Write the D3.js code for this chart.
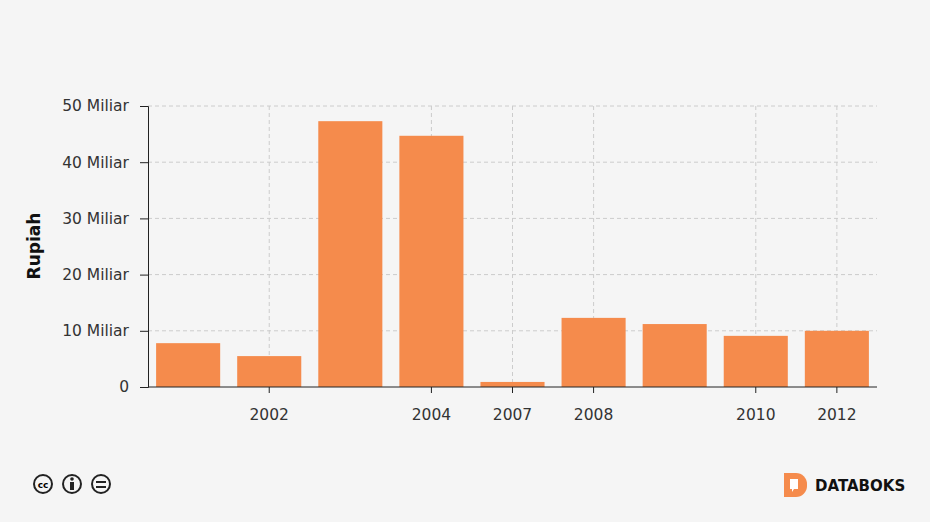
<!DOCTYPE html>
<html><head><meta charset="utf-8">
<script src="https://cdn.jsdelivr.net/npm/d3@7"></script>
<style>
body{margin:0;background:#f5f5f5;font-family:"DejaVu Sans",Verdana,sans-serif}
</style></head><body>
<svg id="c" width="930" height="522"></svg>
<script>
let categories=['c1','2002','c3','2004','2007','2008','c7','2010','2012']
let tickLabels=['','2002','','2004','2007','2008','','2010','2012']
let values=[7.8,5.5,47.3,44.7,0.9,12.3,11.2,9.1,10.0]
let yTicks=[0,10,20,30,40,50]

let svg=d3.select('#c')
svg.append('rect').attr('width',930).attr('height',522).attr('fill','#f5f5f5')
let pLeft=148,pRight=877,pTop=106,pBottom=387
let x=d3.scaleBand().domain(categories).range([pLeft,pRight]).paddingInner(0.21).paddingOuter(0.1)
let y=d3.scaleLinear().domain([0,50]).range([pBottom,pTop])

// grid
svg.append('g').selectAll('line').data(yTicks.slice(1)).enter().append('line')
  .attr('x1',pLeft).attr('x2',pRight).attr('y1',d=>y(d)).attr('y2',d=>y(d))
  .attr('stroke','#ccc').attr('stroke-dasharray','4,3')
svg.append('g').selectAll('line').data(categories.filter((d,i)=>tickLabels[i])).enter().append('line')
  .attr('x1',d=>x(d)+x.bandwidth()/2).attr('x2',d=>x(d)+x.bandwidth()/2).attr('y1',pTop).attr('y2',pBottom)
  .attr('stroke','#ccc').attr('stroke-dasharray','4,3')

svg.append('g').selectAll('rect').data(values).enter().append('rect')
  .attr('x',(d,i)=>x(categories[i])).attr('width',x.bandwidth())
  .attr('y',d=>y(d)).attr('height',d=>pBottom-y(d)).attr('fill','#f58b4c')

let yAxis=d3.axisLeft(y).tickValues(yTicks).tickSize(8).tickPadding(11)
  .tickFormat(d=>d===0?'0':d+' Miliar')
let ga=svg.append('g').attr('transform','translate('+pLeft+',0)').call(yAxis)
ga.select('.domain').attr('stroke','#222')
ga.selectAll('.tick line').attr('stroke','#222')
ga.selectAll('text').attr('font-size',15.5).attr('fill','#333').attr('font-family','DejaVu Sans')

let xAxis=d3.axisBottom(x).tickSize(6).tickPadding(16).tickFormat((d,i)=>tickLabels[i])
let gx=svg.append('g').attr('transform','translate(0,'+pBottom+')').call(xAxis)
gx.select('.domain').attr('stroke','#222').attr('d','M'+pLeft+',0H'+pRight)
gx.selectAll('.tick line').attr('stroke',(d,i)=>tickLabels[i]?'#222':'none')
gx.selectAll('text').attr('font-size',15.5).attr('fill','#333').attr('font-family','DejaVu Sans')

svg.append('text').attr('transform','translate(40,246) rotate(-90)').attr('text-anchor','middle')
  .attr('font-size',17).attr('font-weight','bold').attr('fill','#111').text('Rupiah')

// footer icons
let cc=svg.append('g')
;[43,72,101].forEach(cx=>{
  cc.append('circle').attr('cx',cx).attr('cy',484).attr('r',9).attr('fill','none').attr('stroke','#222').attr('stroke-width',2)
})
cc.append('text').attr('x',43).attr('y',488).attr('text-anchor','middle').attr('font-size',9).attr('font-weight','bold').text('cc')
cc.append('circle').attr('cx',72).attr('cy',479).attr('r',1.8).attr('fill','#222')
cc.append('rect').attr('x',70).attr('y',482).attr('width',4).attr('height',8).attr('fill','#222')
cc.append('rect').attr('x',96).attr('y',481).attr('width',10).attr('height',2).attr('fill','#222')
cc.append('rect').attr('x',96).attr('y',486).attr('width',10).attr('height',2).attr('fill','#222')

let lg=svg.append('g')
lg.append('path').attr('d','M784,473h12a11,11 0 0 1 11,11v2a11,11 0 0 1 -11,11h-12z').attr('fill','#f58b4c')
lg.append('path').attr('d','M790,479h8v10h-4l-2,3v-3h-2z').attr('fill','#fff')
lg.append('text').attr('x',815).attr('y',491).attr('font-size',15).attr('font-weight','bold').attr('fill','#111').text('DATABOKS')
</script></body></html>
